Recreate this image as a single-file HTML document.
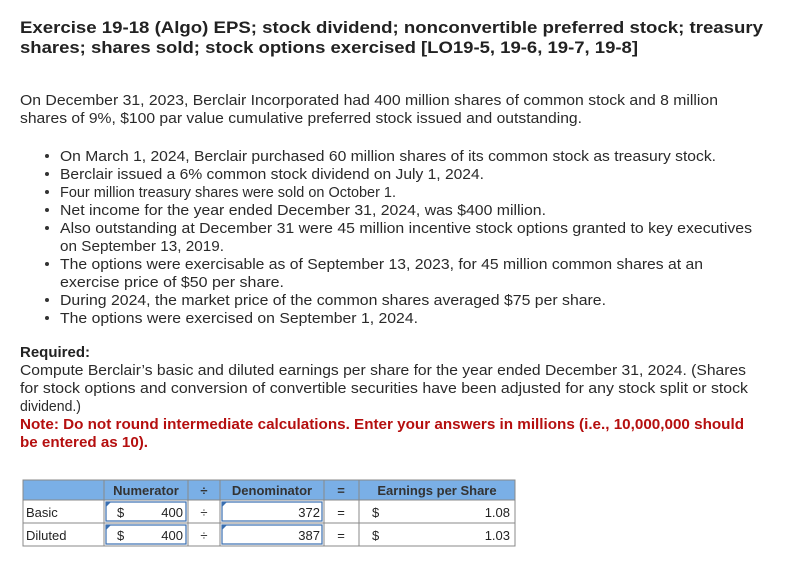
<!DOCTYPE html>
<html><head><meta charset="utf-8"><style>
html,body{margin:0;padding:0;background:#fff;width:799px;height:563px;overflow:hidden}
svg text{font-family:"Liberation Sans",sans-serif;fill:#222}
.t{font-size:17px;font-weight:bold;fill:#222}
.b{font-size:14.5px;fill:#2a2a2a}
.bb{font-size:14.5px;font-weight:bold;fill:#222}
.r{font-size:14.5px;font-weight:bold;fill:#b50f0f}
.c{font-size:13px;fill:#222}
.ch{font-size:13px;font-weight:bold;fill:#333}
</style></head><body>
<svg width="799" height="563" xmlns="http://www.w3.org/2000/svg">
<g>
<text class="t" x="20" y="33" textLength="743" lengthAdjust="spacingAndGlyphs">Exercise 19-18 (Algo) EPS; stock dividend; nonconvertible preferred stock; treasury</text>
<text class="t" x="20" y="53" textLength="618" lengthAdjust="spacingAndGlyphs">shares; shares sold; stock options exercised [LO19-5, 19-6, 19-7, 19-8]</text>
</g>
<g>
<text class="b" x="20" y="105" textLength="698" lengthAdjust="spacingAndGlyphs">On December 31, 2023, Berclair Incorporated had 400 million shares of common stock and 8 million</text>
<text class="b" x="20" y="123" textLength="562" lengthAdjust="spacingAndGlyphs">shares of 9%, $100 par value cumulative preferred stock issued and outstanding.</text>
</g>
<g>
<circle cx="47" cy="156" r="2" fill="#333"/><text class="b" x="60" y="161" textLength="656" lengthAdjust="spacingAndGlyphs">On March 1, 2024, Berclair purchased 60 million shares of its common stock as treasury stock.</text>
<circle cx="47" cy="174" r="2" fill="#333"/><text class="b" x="60" y="179" textLength="424" lengthAdjust="spacingAndGlyphs">Berclair issued a 6% common stock dividend on July 1, 2024.</text>
<circle cx="47" cy="192" r="2" fill="#333"/><text class="b" x="60" y="197" textLength="336" lengthAdjust="spacingAndGlyphs">Four million treasury shares were sold on October 1.</text>
<circle cx="47" cy="210" r="2" fill="#333"/><text class="b" x="60" y="215" textLength="486" lengthAdjust="spacingAndGlyphs">Net income for the year ended December 31, 2024, was $400 million.</text>
<circle cx="47" cy="228" r="2" fill="#333"/><text class="b" x="60" y="233" textLength="692" lengthAdjust="spacingAndGlyphs">Also outstanding at December 31 were 45 million incentive stock options granted to key executives</text>
<text class="b" x="60" y="251" textLength="164" lengthAdjust="spacingAndGlyphs">on September 13, 2019.</text>
<circle cx="47" cy="264" r="2" fill="#333"/><text class="b" x="60" y="269" textLength="643" lengthAdjust="spacingAndGlyphs">The options were exercisable as of September 13, 2023, for 45 million common shares at an</text>
<text class="b" x="60" y="287" textLength="224" lengthAdjust="spacingAndGlyphs">exercise price of $50 per share.</text>
<circle cx="47" cy="300" r="2" fill="#333"/><text class="b" x="60" y="305" textLength="546" lengthAdjust="spacingAndGlyphs">During 2024, the market price of the common shares averaged $75 per share.</text>
<circle cx="47" cy="318" r="2" fill="#333"/><text class="b" x="60" y="323" textLength="358" lengthAdjust="spacingAndGlyphs">The options were exercised on September 1, 2024.</text>
</g>
<g>
<text class="bb" x="20" y="357" textLength="70" lengthAdjust="spacingAndGlyphs">Required:</text>
<text class="b" x="20" y="375" textLength="726" lengthAdjust="spacingAndGlyphs">Compute Berclair’s basic and diluted earnings per share for the year ended December 31, 2024. (Shares</text>
<text class="b" x="20" y="393" textLength="728" lengthAdjust="spacingAndGlyphs">for stock options and conversion of convertible securities have been adjusted for any stock split or stock</text>
<text class="b" x="20" y="411" textLength="61" lengthAdjust="spacingAndGlyphs">dividend.)</text>
<text class="r" x="20" y="429" textLength="724" lengthAdjust="spacingAndGlyphs">Note: Do not round intermediate calculations. Enter your answers in millions (i.e., 10,000,000 should</text>
<text class="r" x="20" y="447" textLength="128" lengthAdjust="spacingAndGlyphs">be entered as 10).</text>
</g>
<g>
<rect x="23" y="480" width="492" height="20" fill="#7aafe6"/>
<rect x="23" y="480" width="492" height="66" fill="none" stroke="#888" stroke-width="1"/>
<line x1="23" y1="500" x2="515" y2="500" stroke="#888"/>
<line x1="23" y1="523" x2="515" y2="523" stroke="#888"/>
<line x1="104" y1="480" x2="104" y2="546" stroke="#888"/>
<line x1="188" y1="480" x2="188" y2="546" stroke="#888"/>
<line x1="220" y1="480" x2="220" y2="546" stroke="#888"/>
<line x1="324" y1="480" x2="324" y2="546" stroke="#888"/>
<line x1="359" y1="480" x2="359" y2="546" stroke="#888"/>
<text class="ch" x="146" y="495" text-anchor="middle">Numerator</text>
<text class="ch" x="204" y="495" text-anchor="middle">÷</text>
<text class="ch" x="272" y="495" text-anchor="middle">Denominator</text>
<text class="ch" x="341" y="495" text-anchor="middle">=</text>
<text class="ch" x="437" y="495" text-anchor="middle">Earnings per Share</text>
<text class="c" x="26" y="517">Basic</text>
<text class="c" x="26" y="540">Diluted</text>
<g>
<rect x="106" y="502" width="80" height="19" fill="#fff" stroke="#3a6fb0" stroke-width="1.2"/><polygon points="106,502 111,502 106,507" fill="#3a6fb0"/>
<text class="c" x="117" y="517">$</text><text class="c" x="183" y="517" text-anchor="end">400</text></g>
<g>
<rect x="106" y="525" width="80" height="19" fill="#fff" stroke="#3a6fb0" stroke-width="1.2"/><polygon points="106,525 111,525 106,530" fill="#3a6fb0"/>
<text class="c" x="117" y="540">$</text><text class="c" x="183" y="540" text-anchor="end">400</text></g>
<text class="c" x="204" y="517" text-anchor="middle" fill="#555">÷</text>
<text class="c" x="204" y="540" text-anchor="middle" fill="#555">÷</text>
<g>
<rect x="222" y="502" width="100" height="19" fill="#fff" stroke="#3a6fb0" stroke-width="1.2"/><polygon points="222,502 227,502 222,507" fill="#3a6fb0"/>
<text class="c" x="320" y="517" text-anchor="end">372</text></g>
<g>
<rect x="222" y="525" width="100" height="19" fill="#fff" stroke="#3a6fb0" stroke-width="1.2"/><polygon points="222,525 227,525 222,530" fill="#3a6fb0"/>
<text class="c" x="320" y="540" text-anchor="end">387</text></g>
<text class="c" x="341" y="517" text-anchor="middle">=</text>
<text class="c" x="341" y="540" text-anchor="middle">=</text>
<text class="c" x="372" y="517">$</text><text class="c" x="510" y="517" text-anchor="end">1.08</text>
<text class="c" x="372" y="540">$</text><text class="c" x="510" y="540" text-anchor="end">1.03</text>
</g>
</svg>
</body></html>
